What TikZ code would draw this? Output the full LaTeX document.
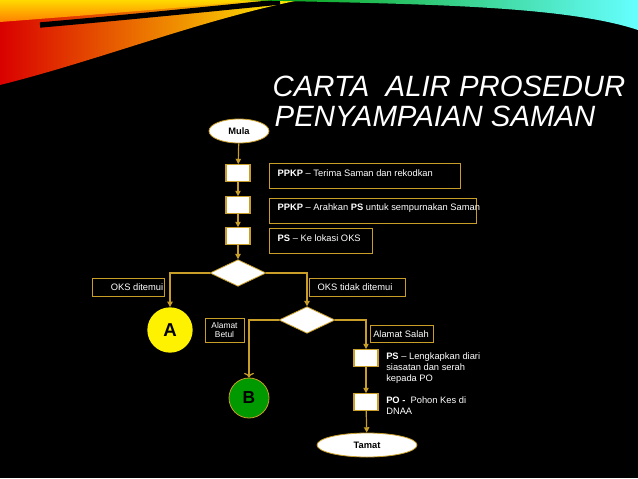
\documentclass[tikz,border=0pt]{standalone}
\usepackage{fontspec}
\setmainfont{Liberation Sans}
\usetikzlibrary{shapes.geometric,arrows.meta}
\definecolor{gold}{RGB}{200,158,40}
\begin{document}
\begin{tikzpicture}[x=0.75pt,y=-0.75pt,
  line/.style={draw=gold,line width=0.9pt},
  arr/.style={line,-{Triangle[length=4pt,width=4pt]}},
  sq/.style={draw=gold,fill=white,line width=0.8pt,minimum width=18pt,minimum height=12.5pt,inner sep=0},
  lbl/.style={draw=gold,line width=0.8pt,text=white,font=\fontsize{7}{8}\selectfont,anchor=north west,inner sep=0},
  txt/.style={text=white,font=\fontsize{7}{8.6}\selectfont},
  dia/.style={diamond,fill=white,draw=gold,line width=0.6pt,inner sep=0,minimum width=42pt,minimum height=20pt},
  term/.style={ellipse,fill=white,draw=gold,line width=0.6pt,font=\bfseries\fontsize{7}{8}\selectfont,inner sep=0}]
\useasboundingbox (0,0) rectangle (638,478);
\fill[black] (0,0) rectangle (638,478);
\shade[left color=red!85!black,right color=yellow!90!orange] (0,0) -- (0,85) .. controls (100,60) and (200,20) .. (300,0) -- cycle;
\shade[top color=yellow!70!orange,bottom color=orange] (0,0) -- (0,22) .. controls (90,15) and (180,8) .. (260,0) -- cycle;
\draw[black,line width=4pt] (40,25) .. controls (120,18) and (200,10) .. (280,2);
\shade[left color=green!60!black,right color=cyan!60!white] (240,0) .. controls (400,4) and (560,4) .. (638,30) -- (638,0) -- cycle;
\node[anchor=west,text=white,font=\itshape\fontsize{22}{26}\selectfont] (t1) at (268,86) {CARTA\ \ ALIR PROSEDUR};
\node[anchor=west,text=white,font=\itshape\fontsize{22}{26}\selectfont] (t2) at (270,116) {PENYAMPAIAN SAMAN};
\node[term,minimum width=45pt,minimum height=18pt] (mula) at (239,131) {Mula};
\node[sq] (b1) at (238,173) {};
\node[sq] (b2) at (238,205) {};
\node[sq] (b3) at (238,236) {};
\node[lbl,minimum width=143pt,minimum height=19pt] (l1) at (269,163) {};
\node[txt,anchor=west] (l1t) at (273,173) {\textbf{PPKP} -- Terima Saman dan rekodkan};
\node[lbl,minimum width=155pt,minimum height=19pt] (l2) at (269,198) {};
\node[txt,anchor=west] (l2t) at (273,208) {\textbf{PPKP} -- Arahkan \textbf{PS} untuk sempurnakan Saman};
\node[lbl,minimum width=77pt,minimum height=19pt] (l3) at (269,228) {};
\node[txt,anchor=west] (l3t) at (273,238) {\textbf{PS} -- Ke lokasi OKS};
\node[dia] (d1) at (238,273) {};
\node[lbl,minimum width=54pt,minimum height=13.5pt] (ok) at (92,278) {};
\node[txt] (okt) at (137,287) {OKS ditemui};
\node[lbl,minimum width=72pt,minimum height=13.5pt] (nok) at (309,278) {};
\node[txt,anchor=west] (nokt) at (313,287) {OKS tidak ditemui};
\node[circle,fill=yellow,minimum size=34pt,inner sep=0,font=\bfseries\fontsize{14}{16}\selectfont] (A) at (170,330) {A};
\node[dia] (d2) at (307,320) {};
\node[lbl,minimum width=29pt,minimum height=18pt] (ab) at (205,318) {};
\node[text=white,font=\fontsize{6.3}{7.3}\selectfont,align=center] (abt) at (224.5,330) {Alamat\\Betul};
\node[lbl,minimum width=47pt,minimum height=13pt] (as) at (370,325) {};
\node[txt] (ast) at (401,334) {Alamat Salah};
\node[circle,fill=green!60!black,draw=gold,line width=0.6pt,minimum size=30pt,inner sep=0,font=\bfseries\fontsize{13}{15}\selectfont] (B) at (249,398) {B};
\node[sq] (b4) at (366,358) {};
\node[sq] (b5) at (366,402) {};
\node[txt,anchor=north west,align=left,inner sep=0] (t4) at (386,352) {\textbf{PS} -- Lengkapkan diari\\siasatan dan serah\\kepada PO};
\node[txt,anchor=north west,align=left,inner sep=0] (t5) at (386,396) {\textbf{PO -}\ \ Pohon Kes di\\DNAA};
\node[term,minimum width=75pt,minimum height=18pt] (tamat) at (367,445) {Tamat};
\draw[arr] (mula) -- (b1);
\draw[arr] (b1) -- (b2);
\draw[arr] (b2) -- (b3);
\draw[arr] (b3) -- (d1);
\draw[arr] (d1.west) -| (A);
\draw[arr] (d1.east) -| (d2);
\draw[line,->] (d2.west) -| (B);
\draw[arr] (d2.east) -| (b4);
\draw[arr] (b4) -- (b5);
\draw[arr] (b5) -- (tamat);
\end{tikzpicture}
\end{document}
